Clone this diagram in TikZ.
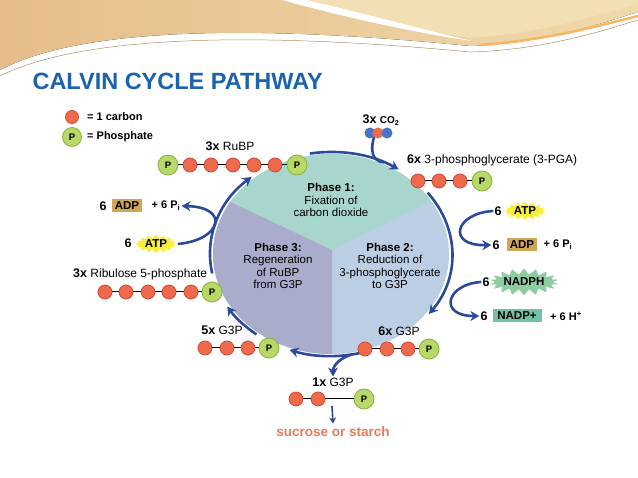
\documentclass[tikz,border=0pt]{standalone}
\usepackage{fontspec}
\setmainfont{Liberation Sans}
\usepackage{xcolor}
\definecolor{carbonred}{HTML}{EF6A4D}
\definecolor{carbonedge}{HTML}{D24A30}
\definecolor{phosgreen}{HTML}{B8D96A}
\definecolor{phosedge}{HTML}{8AB03A}
\definecolor{cycleblue}{HTML}{2C4A9A}
\definecolor{phaseone}{HTML}{A8D6CE}
\definecolor{phasetwo}{HTML}{BCCEE4}
\definecolor{phasethree}{HTML}{A9ADCB}
\definecolor{atpyellow}{HTML}{F8EE3C}
\definecolor{adptan}{HTML}{CFA653}
\definecolor{nadphgreen}{HTML}{8ECDA2}
\definecolor{nadpteal}{HTML}{72C2A6}
\definecolor{sugarred}{HTML}{E8795E}
\definecolor{oxyblue}{HTML}{4B73C5}
\definecolor{titleblue}{HTML}{1B63AE}
\definecolor{peach}{HTML}{E6BD8A}
\definecolor{cream}{HTML}{F2E0B4}
\usetikzlibrary{arrows.meta, shapes.symbols, calc}

\newcommand{\cnt}[1]{{\fontsize{12.5}{13}\selectfont\bfseries #1}}

\tikzset{
  carbon/.style={circle, draw=carbonedge, fill=carbonred, line width=0.8pt, minimum size=14pt, inner sep=0pt},
  phos/.style={circle, draw=phosedge, fill=phosgreen, line width=0.8pt, minimum size=20pt, inner sep=0pt,
    font=\fontsize{9.5}{10}\selectfont\bfseries},
  bond/.style={draw=black, line width=1pt},
  molname/.style={font=\fontsize{12}{13}\selectfont, inner sep=1pt},
  keytext/.style={font=\fontsize{11}{12}\selectfont\bfseries, anchor=west, inner sep=1pt},
  num/.style={font=\fontsize{12.5}{13}\selectfont\bfseries, inner sep=1pt},
  extra/.style={font=\fontsize{11}{12}\selectfont\bfseries, inner sep=1pt},
  phase/.style={font=\fontsize{11.5}{12.5}\selectfont, align=center, inner sep=0pt},
  atpburst/.style={starburst, starburst points=16, starburst point height=3.5pt, random starburst=0,
    fill=atpyellow, inner sep=0pt, minimum width=42pt, minimum height=16pt,
    font=\fontsize{11.5}{12}\selectfont\bfseries},
  nadphburst/.style={starburst, starburst points=18, starburst point height=6pt, random starburst=0,
    fill=nadphgreen, inner sep=0pt, minimum width=68pt, minimum height=27pt,
    font=\fontsize{11.5}{12}\selectfont\bfseries},
  cofbox/.style={inner sep=0pt, minimum width=30pt, minimum height=13pt, font=\fontsize{11.5}{12}\selectfont\bfseries},
  cyc/.style={draw=cycleblue, line width=2.6pt},
  flow/.style={cyc, -{Stealth[length=9pt, width=10pt]}},
}

\begin{document}
\begin{tikzpicture}[x=1pt, y=-1pt]
  \useasboundingbox (0,0) rectangle (638,478);

  % slide header waves
  \fill[left color=peach, right color=cream!80!peach] (0,0) -- (0,70)
    .. controls (80,28) and (250,24) .. (470,46) .. controls (540,44) and (600,24) .. (638,12) -- (638,0) -- cycle;
  \fill[cream] (300,0) .. controls (350,12) and (410,28) .. (470,38)
    .. controls (540,34) and (600,14) .. (638,4) -- (638,0) -- cycle;
  \fill[white] (282,0) .. controls (340,16) and (410,32) .. (472,41)
    .. controls (410,26) and (350,10) .. (306,0) -- cycle;
  \draw[orange!45!cream, line width=2.5pt] (480,45) .. controls (550,40) and (605,24) .. (638,16);
  \draw[black!25!peach, line width=0.5pt] (0,76) .. controls (80,36) and (250,31) .. (470,52)
    .. controls (545,50) and (605,30) .. (638,20);

  % title
  \node[anchor=west, text=titleblue, font=\bfseries\fontsize{23.5}{24}\selectfont] (title) at (29,81) {CALVIN CYCLE PATHWAY};

  % legend
  \node[carbon, minimum size=13pt] (keyc) at (72,117) {};
  \node[keytext] (keyct) at (86,117) {= 1 carbon};
  \node[phos, minimum size=19pt] (keyp) at (72,137) {P};
  \node[keytext] (keypt) at (86,137) {= Phosphate};

  % three phases of the disc
  \coordinate (ctr) at (331,254);
  \coordinate (hub) at (332,250);
  \fill[phasetwo] (ctr) ellipse[x radius=118, y radius=100];
  \begin{scope}
    \clip (ctr) ellipse[x radius=118, y radius=100];
    \fill[phaseone] (hub) -- (150,164) -- (150,120) -- (520,120) -- (520,157) -- cycle;
    \fill[phasethree] (hub) -- (150,164) -- (150,400) -- (332,400) -- cycle;
  \end{scope}
  \node[phase] (ph1) at (331,200) {\textbf{Phase 1:}\\Fixation of\\carbon dioxide};
  \node[phase] (ph3) at (278,266) {\textbf{Phase 3:}\\Regeneration\\of RuBP\\from G3P};
  \node[phase] (ph2) at (390,266) {\textbf{Phase 2:}\\Reduction of\\3-phosphoglycerate\\to G3P};

  % cycle arrows round the disc
  \coordinate (rA) at ($(ctr)+(-100:121 and 102)$);
  \coordinate (rB) at ($(ctr)+(-37:121 and 102)$);
  \coordinate (rC) at ($(ctr)+(75:121 and 102)$);
  \coordinate (rD) at ($(ctr)+(128:121 and 102)$);
  \coordinate (rE) at ($(ctr)+(169:121 and 102)$);
  \coordinate (rco2) at ($(ctr)+(-64:121 and 102)$);
  \coordinate (rout) at ($(ctr)+(80:121 and 102)$);
  \draw[flow] (rA) arc[start angle=-100, end angle=-56, x radius=121, y radius=102];
  \draw[flow] (rB) arc[start angle=-37, end angle=36, x radius=121, y radius=102];
  \draw[flow] (rC) arc[start angle=75, end angle=110, x radius=121, y radius=102];
  \draw[flow] (rD) arc[start angle=128, end angle=149, x radius=121, y radius=102];
  \draw[flow] (rE) arc[start angle=169, end angle=229, x radius=121, y radius=102];

  % RuBP
  \node[molname] (rubplbl) at (230,146) {\cnt{3x} RuBP};
  \node[phos] (rubpp1) at (168,165) {P};
  \node[carbon] (rubp1) at (190,165) {};
  \node[carbon] (rubp2) at (211,165) {};
  \node[carbon] (rubp3) at (233,165) {};
  \node[carbon] (rubp4) at (254,165) {};
  \node[carbon] (rubp5) at (275,165) {};
  \node[phos] (rubpp2) at (297,165) {P};
  \draw[bond] (rubpp1) -- (rubp1) -- (rubp2) -- (rubp3) -- (rubp4) -- (rubp5) -- (rubpp2);

  % CO2 in
  \node[molname] (co2lbl) at (381,120) {\cnt{3x} \textbf{\fontsize{10}{11}\selectfont CO\textsubscript{2}}};
  \node[circle, fill=oxyblue, minimum size=11pt, inner sep=0pt] (co2a) at (370,133) {};
  \node[circle, fill=carbonred, minimum size=11pt, inner sep=0pt] (co2c) at (378,133) {};
  \node[circle, fill=oxyblue, minimum size=11pt, inner sep=0pt] (co2b) at (387,133) {};
  \draw[cyc] (co2a.south east) .. controls (368,158) and (378,162) .. (rco2);

  % 3-PGA
  \node[molname, anchor=west] (pgalbl) at (406,160) {\cnt{6x}\ 3-phosphoglycerate (3-PGA)};
  \node[carbon] (pga1) at (418,181) {};
  \node[carbon] (pga2) at (439,181) {};
  \node[carbon] (pga3) at (460,181) {};
  \node[phos] (pgap) at (482,181) {P};
  \draw[bond] (pga1) -- (pga2) -- (pga3) -- (pgap);

  % ATP and NADPH used in phase 2
  \node[num] (atpRn) at (498,211) {6};
  \node[atpburst] (atpR) at (525,211) {ATP};
  \node[num] (adpRn) at (496,245) {6};
  \node[cofbox, fill=adptan] (adpR) at (522,245) {ADP};
  \node[extra] (adpRpi) at (558,245) {+ 6 P\textsubscript{i}};
  \node[num] (nadphn) at (486,282) {6};
  \node[nadphburst] (nadph) at (524,282) {NADPH};
  \node[num] (nadpn) at (484,316) {6};
  \node[cofbox, fill=nadpteal, minimum width=49pt] (nadp) at (517,316) {NADP+};
  \node[extra] (nadph2) at (566,316) {+ 6 H\textsuperscript{+}};
  \draw[flow] (atpRn.west) .. controls (455,213) and (446,246) .. (adpRn.west);
  \draw[flow] (nadphn.west) .. controls (446,284) and (438,316) .. (nadpn.west);

  % 6x G3P
  \node[molname] (g3p6lbl) at (399,331) {\cnt{6x} G3P};
  \node[carbon] (g6a) at (365,349) {};
  \node[carbon] (g6b) at (387,349) {};
  \node[carbon] (g6c) at (408,349) {};
  \node[phos] (g6p) at (429,349) {P};
  \draw[bond] (g6a) -- (g6b) -- (g6c) -- (g6p);

  % 1x G3P leaves the cycle
  \node[molname] (g3p1lbl) at (333,382) {\cnt{1x} G3P};
  \node[carbon] (g1a) at (296,399) {};
  \node[carbon] (g1b) at (318,399) {};
  \node[phos] (g1p) at (364,399) {P};
  \draw[bond] (g1a) -- (g1b) -- (g1p);
  \draw[flow] (rout) to[out=195, in=90] (g3p1lbl.north);
  \coordinate (g3pout) at (332,406);
  \node[font=\fontsize{13.5}{14}\selectfont\bfseries, text=sugarred] (sugar) at (333,432) {sucrose or starch};
  \draw[cycleblue, line width=1.6pt, -{Stealth[length=6pt, width=7pt]}] (g3pout) -- (sugar.north);

  % 5x G3P
  \node[molname] (g3p5lbl) at (222,330) {\cnt{5x} G3P};
  \node[carbon] (g5a) at (205,348) {};
  \node[carbon] (g5b) at (227,348) {};
  \node[carbon] (g5c) at (248,348) {};
  \node[phos] (g5p) at (269,348) {P};
  \draw[bond] (g5a) -- (g5b) -- (g5c) -- (g5p);

  % Ribulose 5-phosphate
  \node[molname, anchor=west] (rulbl) at (72,274) {\cnt{3x} Ribulose 5-phosphate};
  \node[carbon] (ru1) at (105,292) {};
  \node[carbon] (ru2) at (126,292) {};
  \node[carbon] (ru3) at (148,292) {};
  \node[carbon] (ru4) at (169,292) {};
  \node[carbon] (ru5) at (191,292) {};
  \node[phos] (rup) at (212,292) {P};
  \draw[bond] (ru1) -- (ru2) -- (ru3) -- (ru4) -- (ru5) -- (rup);

  % ATP used in phase 3
  \node[num] (adpLn) at (103,206) {6};
  \node[cofbox, fill=adptan] (adpL) at (127,206) {ADP};
  \node[extra] (adpLpi) at (166,206) {+ 6 P\textsubscript{i}};
  \node[num] (atpLn) at (128,243) {6};
  \node[atpburst] (atpL) at (156,244) {ATP};
  \draw[flow] (atpL.east) .. controls (222,240) and (230,207) .. (adpLpi.east);
\end{tikzpicture}
\end{document}
